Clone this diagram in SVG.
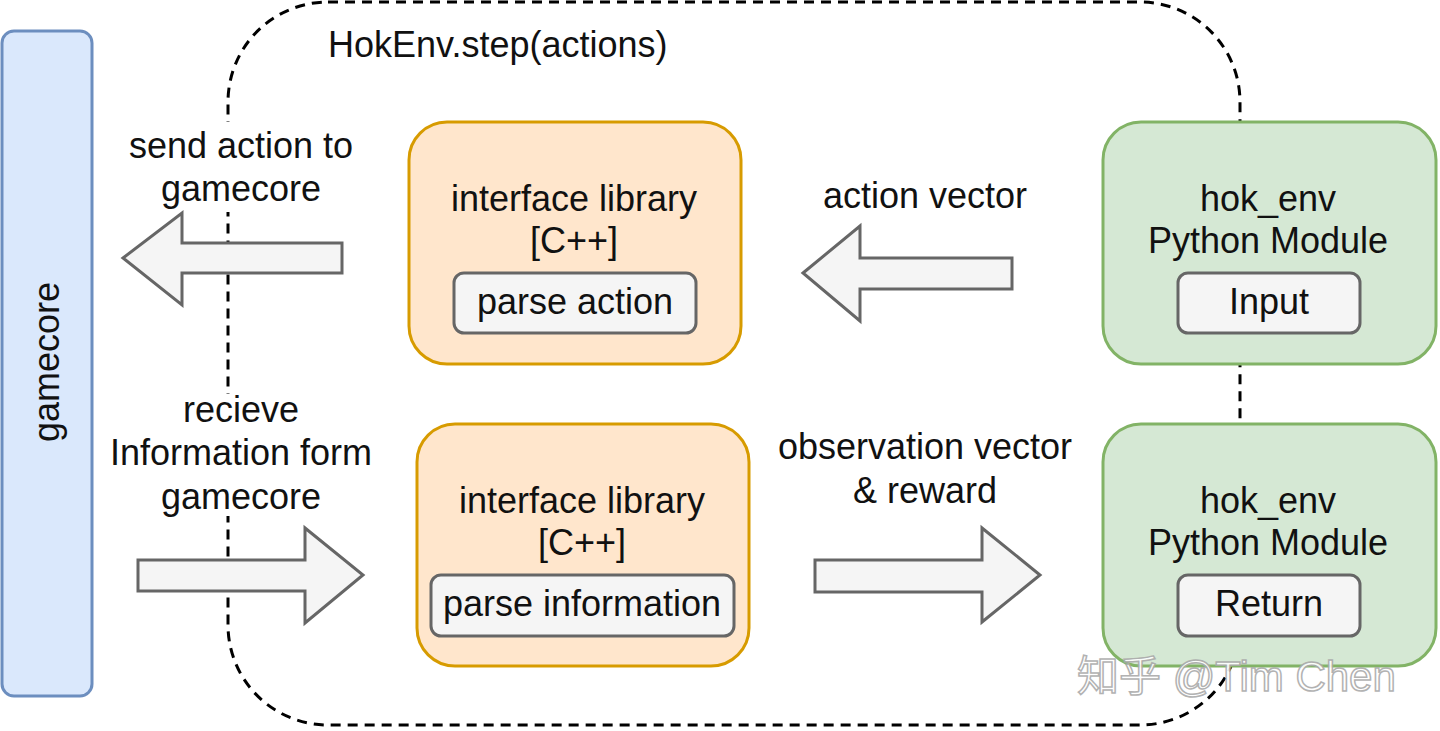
<svg xmlns="http://www.w3.org/2000/svg" width="1440" height="731" viewBox="0 0 1440 731">
<style>
text{font-family:"Liberation Sans",Arial,sans-serif;font-size:36px;fill:#111;text-anchor:middle}
.blue{fill:#dae8fc;stroke:#6c8ebf;stroke-width:3}
.orange{fill:#ffe6cc;stroke:#d79b00;stroke-width:3}
.green{fill:#d5e8d4;stroke:#82b366;stroke-width:3}
.inner{fill:#f5f5f5;stroke:#666;stroke-width:3}
.arrow{fill:#f5f5f5;stroke:#666;stroke-width:3;stroke-linejoin:miter}
.dash{fill:none;stroke:#000;stroke-width:3;stroke-dasharray:10 7}
.wm{font-family:"Liberation Sans","Noto Sans CJK SC",sans-serif;font-size:42px;fill:#fff;stroke:#aaa;stroke-width:1.5;text-anchor:start;opacity:0.9}
</style>
<rect width="1440" height="731" fill="#fff"/>
<g id="hokenv-step">
<rect class="dash" x="228" y="2" width="1012" height="723" rx="100" ry="100"/>
<text x="328" y="57" style="text-anchor:start">HokEnv.step(actions)</text>
</g>
<g id="gamecore">
<rect class="blue" x="2" y="31" width="90" height="665" rx="12"/>
<text transform="translate(59 362) rotate(-90)">gamecore</text>
</g>
<g id="label-send">
<rect x="122" y="122" width="238" height="90" fill="#fff"/>
<text x="241" y="158">send action to</text>
<text x="241" y="201">gamecore</text>
</g>
<g id="label-receive">
<rect x="106" y="394" width="272" height="122" fill="#fff"/>
<text x="241" y="422">recieve</text>
<text x="241" y="465">Information form</text>
<text x="241" y="509">gamecore</text>
</g>
<g id="interface-action">
<rect class="orange" x="409" y="122" width="332" height="242" rx="38"/>
<text x="574" y="211">interface library</text>
<text x="574" y="253">[C++]</text>
<rect class="inner" x="454" y="273" width="242" height="60" rx="10"/>
<text x="575" y="314">parse action</text>
</g>
<g id="interface-info">
<rect class="orange" x="417" y="424" width="332" height="242" rx="38"/>
<text x="582" y="513">interface library</text>
<text x="582" y="555">[C++]</text>
<rect class="inner" x="431" y="575" width="303" height="61" rx="10"/>
<text x="582" y="616">parse information</text>
</g>
<g id="hok-input">
<rect class="green" x="1103" y="122" width="333" height="242" rx="38"/>
<text x="1268" y="211">hok_env</text>
<text x="1268" y="253">Python Module</text>
<rect class="inner" x="1178" y="273" width="182" height="60" rx="10"/>
<text x="1269" y="314">Input</text>
</g>
<g id="hok-return">
<rect class="green" x="1103" y="424" width="333" height="242" rx="38"/>
<text x="1268" y="513">hok_env</text>
<text x="1268" y="555">Python Module</text>
<rect class="inner" x="1178" y="575" width="182" height="61" rx="10"/>
<text x="1269" y="616">Return</text>
</g>
<g id="label-action-vector">
<text x="925" y="208">action vector</text>
</g>
<g id="label-observation">
<text x="925" y="459">observation vector</text>
<text x="925" y="503">&amp; reward</text>
</g>
<g id="connectors">
<polygon class="arrow" points="123,258 182,213 182,243 342,243 342,273 182,273 182,305"/>
<polygon class="arrow" points="803,273 860,226 860,258 1012,258 1012,289 860,289 860,321"/>
<polygon class="arrow" points="138,560 305,560 305,528 363,575 305,623 305,591 138,591"/>
<polygon class="arrow" points="815,560 982,560 982,528 1040,575 982,622 982,592 815,592"/>
</g>
<g id="watermark">
<text class="wm" x="1077" y="691">知乎 @Tim Chen</text>
</g>
</svg>
